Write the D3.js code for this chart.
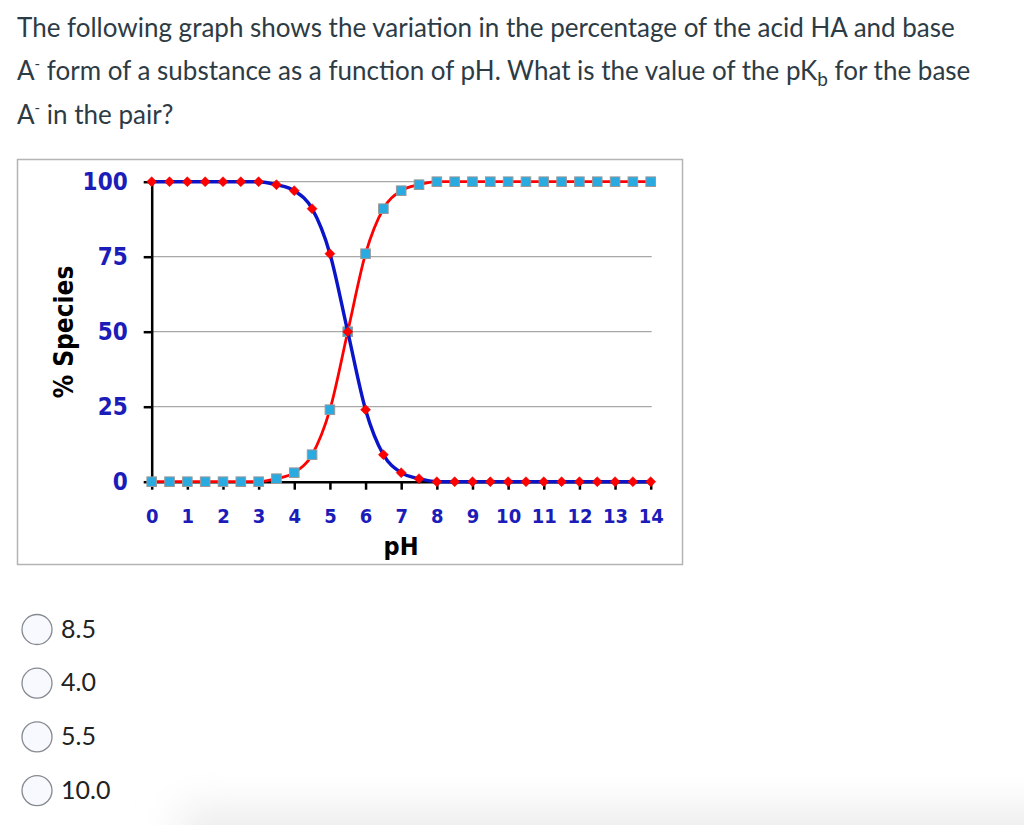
<!DOCTYPE html>
<html>
<head>
<meta charset="utf-8">
<script src="https://cdn.jsdelivr.net/npm/d3@7"></script>
<style>
  body { margin: 0; background: #fff; }
  svg { display: block; }
</style>
</head>
<body>
<svg></svg>
<script>
  let w = 1024;
  let h = 825;

// data
const pHValues = [0, 0.5, 1, 1.5, 2, 2.5, 3, 3.5, 4, 4.5, 5, 5.5, 6, 6.5, 7, 7.5,
                  8, 8.5, 9, 9.5, 10, 10.5, 11, 11.5, 12, 12.5, 13, 13.5, 14];
const acidHA = [100, 100, 100, 100, 100, 100, 100, 99, 97, 91, 76, 50, 24, 9, 3, 1,
                0, 0, 0, 0, 0, 0, 0, 0, 0, 0, 0, 0, 0];
const baseA = [0, 0, 0, 0, 0, 0, 0, 1, 3, 9, 24, 50, 76, 91, 97, 99,
               100, 100, 100, 100, 100, 100, 100, 100, 100, 100, 100, 100, 100];
const xTicks = [0, 1, 2, 3, 4, 5, 6, 7, 8, 9, 10, 11, 12, 13, 14];
const yTicks = [0, 25, 50, 75, 100];
const answers = ['8.5', '4.0', '5.5', '10.0'];

const svg = d3.select('svg')
  .attr('width', w)
  .attr('height', h)

// soft shadow at the bottom of the page
const defs = svg.append('defs')
defs.append('filter').attr('id', 'blur')
  .attr('x', '-20%').attr('y', '-100%').attr('width', '140%').attr('height', '300%')
  .append('feGaussianBlur').attr('stdDeviation', 20)
svg.append('rect')
  .attr('x', 180).attr('y', 808).attr('width', 920).attr('height', 60)
  .attr('fill', '#ececec')
  .attr('filter', 'url(#blur)')

// question text
const q = svg.append('g')
  .attr('font-family', 'Lato, sans-serif')
  .attr('font-size', 26)
  .attr('fill', '#2d3b45')

q.append('text').attr('x', 17).attr('y', 37)
  .text('The following graph shows the variation in the percentage of the acid HA and base')

const l2 = q.append('text').attr('x', 17).attr('y', 80)
l2.append('tspan').text('A')
l2.append('tspan').attr('dy', -11).attr('font-size', 15).text('-')
l2.append('tspan').attr('dy', 11).text(' form of a substance as a function of pH. What is the value of the pK')
l2.append('tspan').attr('dy', 6).attr('font-size', 19).text('b')
l2.append('tspan').attr('dy', -6).text(' for the base')

const l3 = q.append('text').attr('x', 17).attr('y', 124)
l3.append('tspan').text('A')
l3.append('tspan').attr('dy', -11).attr('font-size', 15).text('-')
l3.append('tspan').attr('dy', 11).text(' in the pair?')

// chart frame
svg.append('rect')
  .attr('x', 17.5).attr('y', 159.5)
  .attr('width', 665).attr('height', 405)
  .attr('fill', '#fff')
  .attr('stroke', '#b4b4b4')
  .attr('stroke-width', 1.5)

// Create Scales
const xScale = d3.scaleLinear()
  .domain([0, 14])
  .range([151.7, 650.7])

const yScale = d3.scaleLinear()
  .domain([0, 100])
  .range([481.7, 181.7])

// gridlines
svg.append('g')
  .selectAll('line')
  .data(yTicks.filter(d => d > 0))
  .enter()
  .append('line')
  .attr('x1', xScale(0))
  .attr('x2', xScale(14) + 1)
  .attr('y1', d => yScale(d))
  .attr('y2', d => yScale(d))
  .attr('stroke', '#a8a8a8')
  .attr('stroke-width', 1.3)

// Draw Axes
const tickFont = 'Tahoma, "DejaVu Sans Condensed", "DejaVu Sans", sans-serif';

const xAxis = d3.axisBottom(xScale)
  .tickValues(xTicks)
  .tickSize(8)
  .tickSizeOuter(0)
  .tickPadding(19)
  .tickFormat(d3.format('d'))

const gx = svg.append('g')
  .attr('transform', 'translate(0,' + yScale(0) + ')')
  .call(xAxis)

const yAxis = d3.axisLeft(yScale)
  .tickValues(yTicks)
  .tickSize(8)
  .tickSizeOuter(0)
  .tickPadding(16)

const gy = svg.append('g')
  .attr('transform', 'translate(' + xScale(0) + ',0)')
  .call(yAxis)

gx.selectAll('.domain, line').attr('stroke', '#000').attr('stroke-width', 2.5)
gy.selectAll('.domain, line').attr('stroke', '#000').attr('stroke-width', 2.5)
gx.selectAll('text')
  .attr('fill', '#1c1cb8')
  .attr('font-family', tickFont)
  .attr('font-weight', 'bold')
  .attr('font-size', 20)
gy.selectAll('text')
  .attr('fill', '#1c1cb8')
  .attr('font-family', tickFont)
  .attr('font-weight', 'bold')
  .attr('font-size', 24)

// axis titles
svg.append('text')
  .attr('transform', 'translate(73,332) rotate(-90)')
  .attr('text-anchor', 'middle')
  .attr('font-family', tickFont)
  .attr('font-weight', 'bold')
  .attr('font-size', 26)
  .attr('fill', '#000')
  .text('% Species')

svg.append('text')
  .attr('x', 401).attr('y', 555)
  .attr('text-anchor', 'middle')
  .attr('font-family', tickFont)
  .attr('font-weight', 'bold')
  .attr('font-size', 25)
  .attr('fill', '#000')
  .text('pH')

// Draw Lines
const line = vals => d3.line()
  .x((d, i) => xScale(pHValues[i]))
  .y(d => yScale(d))
  .curve(d3.curveMonotoneX)(vals)

svg.append('path')
  .attr('d', line(baseA))
  .attr('fill', 'none')
  .attr('stroke', '#ff0000')
  .attr('stroke-width', 2.8)

svg.append('g')
  .selectAll('rect')
  .data(baseA)
  .enter()
  .append('rect')
  .attr('x', (d, i) => xScale(pHValues[i]) - 4.8)
  .attr('y', d => yScale(d) - 4.8)
  .attr('width', 9.6)
  .attr('height', 9.6)
  .attr('fill', '#29abe2')
  .attr('stroke', '#9a9a9a')
  .attr('stroke-width', 1)

svg.append('path')
  .attr('d', line(acidHA))
  .attr('fill', 'none')
  .attr('stroke', '#0a14c8')
  .attr('stroke-width', 3.4)

svg.append('g')
  .selectAll('path')
  .data(acidHA)
  .enter()
  .append('path')
  .attr('d', d3.symbol(d3.symbolSquare, 50)())
  .attr('transform', (d, i) => 'translate(' + xScale(pHValues[i]) + ',' + yScale(d) + ') rotate(45)')
  .attr('fill', '#ff0000')
  .attr('stroke', '#e00000')
  .attr('stroke-width', 0.5)

// answer options
const opts = svg.append('g')
  .selectAll('g')
  .data(answers)
  .enter()
  .append('g')
  .attr('transform', (d, i) => 'translate(0,' + (629.5 + i * 53.7) + ')')

opts.append('circle')
  .attr('cx', 37).attr('cy', 0).attr('r', 15)
  .attr('fill', '#f7f9ff')
  .attr('stroke', '#858a8f')
  .attr('stroke-width', 1.3)

opts.append('text')
  .attr('x', 61).attr('y', 8)
  .attr('font-family', 'Lato, sans-serif')
  .attr('font-size', 25)
  .attr('fill', '#222')
  .text(d => d)
</script>
</body>
</html>
